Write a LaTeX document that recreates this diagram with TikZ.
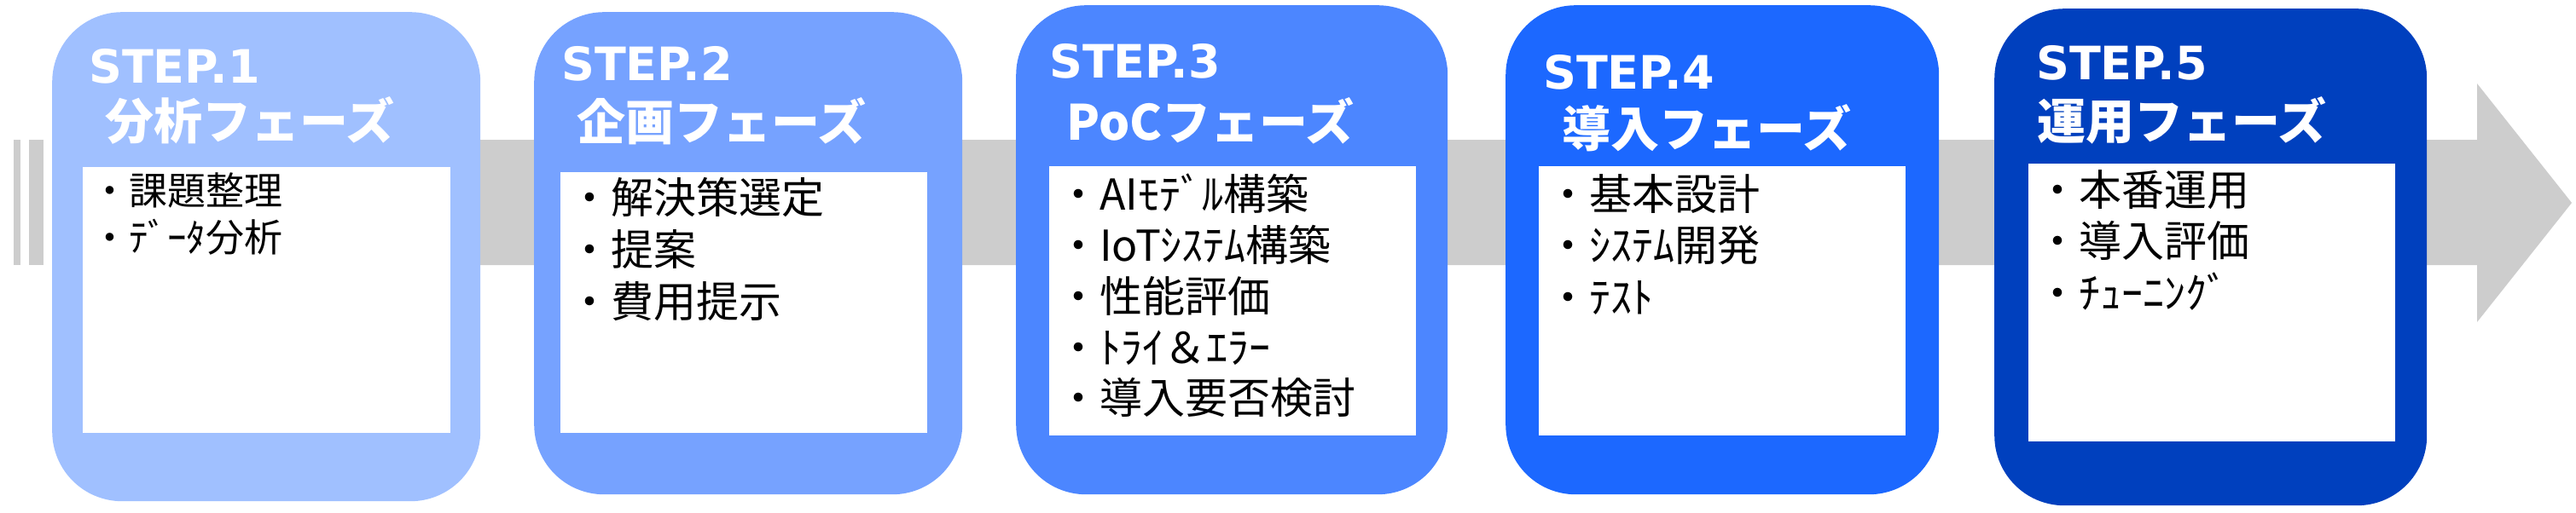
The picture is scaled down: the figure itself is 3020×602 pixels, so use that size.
\documentclass[tikz,border=0pt]{standalone}
\usepackage{fontspec}
\newfontfamily\jp{Noto Sans CJK JP}
\newfontfamily\stepfont{DejaVu Sans}
\definecolor{cA}{HTML}{A0C0FF}
\definecolor{cB}{HTML}{76A2FF}
\definecolor{cC}{HTML}{4C86FF}
\definecolor{cD}{HTML}{1C68FF}
\definecolor{cE}{HTML}{0040BE}
\definecolor{arrowgray}{HTML}{CDCDCD}
\tikzset{
  phase/.style={draw=none, rounded corners=82pt, anchor=north west, inner sep=0pt},
  panel/.style={draw=none, fill=white, anchor=north west, inner sep=0pt},
  steptxt/.style={anchor=base west, inner sep=0pt, text=white, font=\stepfont\bfseries\fontsize{54}{60}\selectfont},
  phasetxt/.style={anchor=base west, inner sep=0pt, text=white, font=\jp\bfseries\fontsize{57}{64}\selectfont},
  bodytxt/.style={anchor=base west, inner sep=0pt, text=black, font=\jp\fontsize{50}{60}\selectfont},
  bodysmall/.style={anchor=base west, inner sep=0pt, text=black, font=\jp\fontsize{45}{55}\selectfont}
}
\begin{document}
\begin{tikzpicture}[x=1pt,y=-1pt]
\useasboundingbox (0,0) rectangle (3020,602);
% background arrow
\fill[arrowgray] (16,164) rectangle (24,311);
\fill[arrowgray] (34,164) rectangle (51,311);
\fill[arrowgray] (61,164) -- (2904,164) -- (2904,98) -- (3015,238) -- (2904,378) -- (2904,311) -- (61,311) -- cycle;
% phase boxes
\node[phase, fill=cA, minimum width=502pt, minimum height=574pt] (b1) at (61,14) {};
\node[phase, fill=cB, minimum width=502pt, minimum height=566pt] (b2) at (626,14) {};
\node[phase, fill=cC, minimum width=506pt, minimum height=574pt] (b3) at (1191,6) {};
\node[phase, fill=cD, minimum width=508pt, minimum height=574pt] (b4) at (1765,6) {};
\node[phase, fill=cE, minimum width=507pt, minimum height=583pt] (b5) at (2338,10) {};
% white panels
\node[panel, minimum width=431pt, minimum height=312pt] (w1) at (97,196) {};
\node[panel, minimum width=430pt, minimum height=306pt] (w2) at (657,202) {};
\node[panel, minimum width=430pt, minimum height=316pt] (w3) at (1230,195) {};
\node[panel, minimum width=430pt, minimum height=316pt] (w4) at (1804,195) {};
\node[panel, minimum width=430pt, minimum height=326pt] (w5) at (2378,192) {};
% titles
\node[steptxt] (s1) at (104,97) {STEP.1};
\node[phasetxt] (p1) at (123,163) {分析フェーズ};
\node[steptxt] (s2) at (658,95) {STEP.2};
\node[phasetxt] (p2) at (676,164) {企画フェーズ};
\node[steptxt] (s3) at (1230,92) {STEP.3};
\node[phasetxt] (p3) at (1250,164) {PoCフェーズ};
\node[steptxt] (s4) at (1809,104) {STEP.4};
\node[phasetxt] (p4) at (1831,172) {導入フェーズ};
\node[steptxt] (s5) at (2387,93) {STEP.5};
\node[phasetxt] (p5) at (2388,163) {運用フェーズ};
% body texts
\node[bodysmall] (t1a) at (106,240) {・課題整理};
\node[bodysmall] (t1b) at (106,295) {・ﾃﾞｰﾀ分析};
\node[bodytxt] (t2a) at (666,250) {・解決策選定};
\node[bodytxt] (t2b) at (666,311) {・提案};
\node[bodytxt] (t2c) at (666,372) {・費用提示};
\node[bodytxt] (t3a) at (1239,246) {・AIﾓﾃﾞﾙ構築};
\node[bodytxt] (t3b) at (1239,306) {・IoTｼｽﾃﾑ構築};
\node[bodytxt] (t3c) at (1239,366) {・性能評価};
\node[bodytxt] (t3d) at (1239,426) {・ﾄﾗｲ＆ｴﾗｰ};
\node[bodytxt] (t3e) at (1239,485) {・導入要否検討};
\node[bodytxt] (t4a) at (1813,246) {・基本設計};
\node[bodytxt] (t4b) at (1813,306) {・ｼｽﾃﾑ開発};
\node[bodytxt] (t4c) at (1813,367) {・ﾃｽﾄ};
\node[bodytxt] (t5a) at (2387,241) {・本番運用};
\node[bodytxt] (t5b) at (2387,301) {・導入評価};
\node[bodytxt] (t5c) at (2387,362) {・ﾁｭｰﾆﾝｸﾞ};
\end{tikzpicture}
\end{document}
